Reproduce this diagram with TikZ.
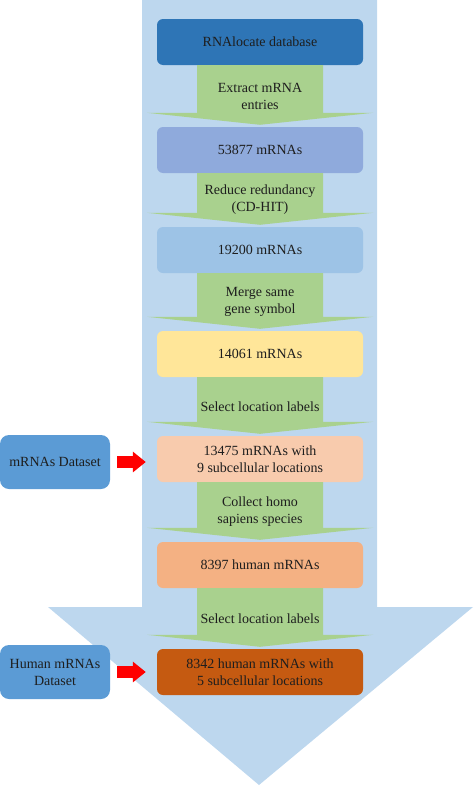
\documentclass[tikz,border=0pt]{standalone}
\usepackage{fontspec}
\setmainfont{Liberation Serif}
\usetikzlibrary{calc,arrows.meta}
\definecolor{flowblue}{HTML}{BDD7EE}
\definecolor{stepgreen}{HTML}{A9D18E}
\definecolor{setblue}{HTML}{5B9BD5}
\definecolor{textdark}{HTML}{1E1E1E}
\tikzset{box/.style = {rounded corners=6pt, minimum width=206pt, minimum height=46pt,
                       align=center, text=textdark, font=\fontsize{14}{17}\selectfont, inner sep=2pt},
         setbox/.style = {box, fill=setblue, rounded corners=9pt, minimum width=110pt, minimum height=54pt},
         stepnote/.style = {align=center, text=textdark, font=\fontsize{14}{17}\selectfont, inner sep=0pt},
         redarrow/.style = {red, line width=12pt, -{Triangle[width=20pt,length=13pt]}}}
% green step arrow between two boxes
\newcommand{\greenstep}[4]{%
  \fill[stepgreen] let \p1=(#1.south), \p2=(#2.north) in
    (\x1-63pt,\y1) -- (\x1+63pt,\y1) -- (\x1+63pt,\y2+14pt) -- (\x1+113pt,\y2+14pt)
    -- (\x1,\y2+2pt) -- (\x1-113pt,\y2+14pt) -- (\x1-63pt,\y2+14pt) -- cycle;
  \node[stepnote] (#3) at ($(#1.south)!.5!(#2.north)$) {#4};}

\begin{document}
\begin{tikzpicture}[x=1pt,y=-1pt]
\useasboundingbox (0,0) rectangle (474,787);
\fill[flowblue] (142,0) -- (377,0) -- (377,607) -- (473,607) -- (259,785) -- (48,607) -- (142,607) -- cycle;

\node[box, fill={rgb,255:red,46;green,117;blue,182}] (b1) at (260,42) {RNAlocate database};
\node[box, fill={rgb,255:red,143;green,170;blue,220}] (b2) at (260,150) {53877 mRNAs};
\node[box, fill={rgb,255:red,157;green,195;blue,230}] (b3) at (260,250) {19200 mRNAs};
\node[box, fill={rgb,255:red,255;green,230;blue,153}] (b4) at (260,354) {14061 mRNAs};
\node[box, fill={rgb,255:red,248;green,203;blue,173}] (b5) at (260,459) {13475 mRNAs with\\9 subcellular locations};
\node[box, fill={rgb,255:red,244;green,177;blue,131}] (b6) at (260,565) {8397 human mRNAs};
\node[box, fill={rgb,255:red,197;green,90;blue,17}] (b7) at (260,672) {8342 human mRNAs with\\5 subcellular locations};

\greenstep{b1}{b2}{s1}{Extract mRNA\\entries}
\greenstep{b2}{b3}{s2}{Reduce redundancy\\(CD-HIT)}
\greenstep{b3}{b4}{s3}{Merge same\\gene symbol}
\greenstep{b4}{b5}{s4}{Select location labels}
\greenstep{b5}{b6}{s5}{Collect homo\\sapiens species}
\greenstep{b6}{b7}{s6}{Select location labels}

\node[setbox] (ds1) at (55,462) {mRNAs Dataset};
\node[setbox] (ds2) at (55,672) {Human mRNAs\\Dataset};

\draw[redarrow, shorten <=7pt, shorten >=11pt] (ds1.east) -- (ds1.east -| b5.west);
\draw[redarrow, shorten <=7pt, shorten >=11pt] (ds2.east) -- (ds2.east -| b7.west);
\end{tikzpicture}
\end{document}
